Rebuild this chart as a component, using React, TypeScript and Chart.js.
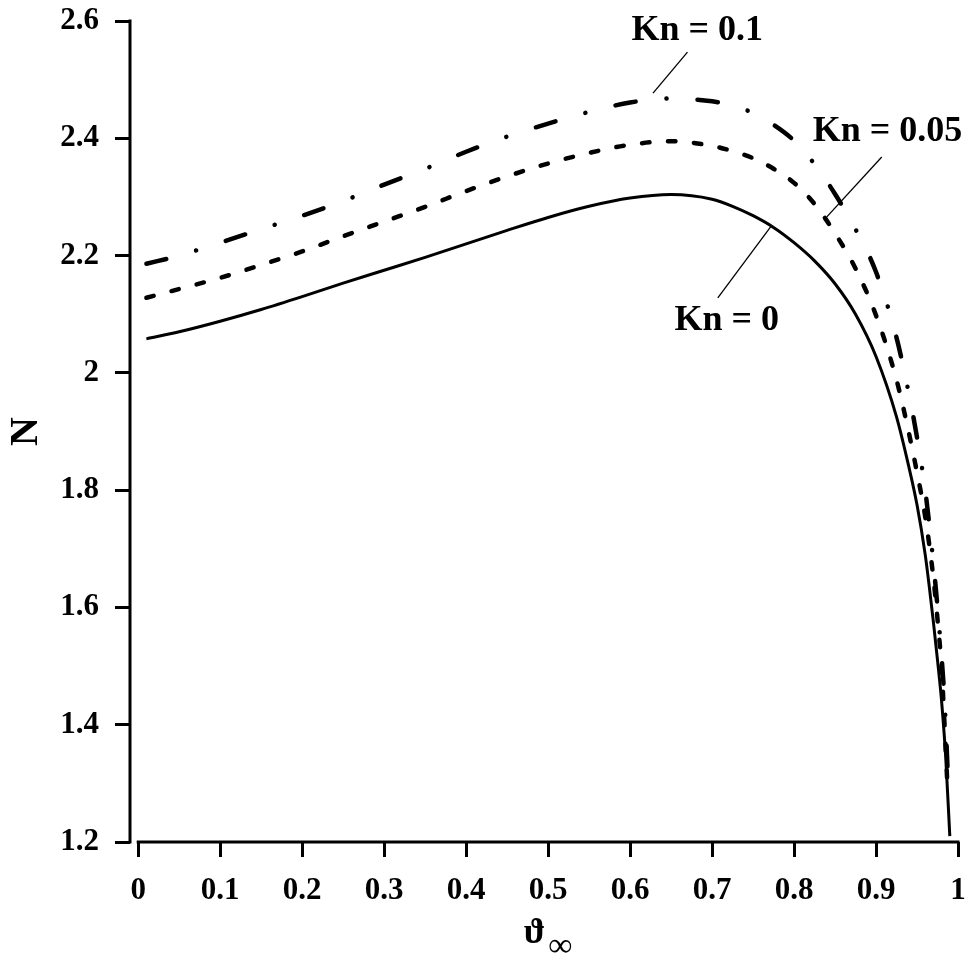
import { useEffect, useRef } from "react";
import { Chart, registerables } from "chart.js";

Chart.register(...registerables);

// Nusselt number N versus temperature ratio ϑ∞ for three Knudsen numbers
const kn0X = [0.01, 0.05, 0.1, 0.15, 0.2, 0.25, 0.3, 0.35, 0.4, 0.45, 0.5, 0.55, 0.6, 0.65, 0.7, 0.725, 0.75, 0.775, 0.8, 0.825, 0.85, 0.875, 0.9, 0.925, 0.94, 0.95, 0.96, 0.965, 0.97, 0.975, 0.98, 0.985, 0.99];
const kn0N = [2.058, 2.07, 2.088, 2.108, 2.13, 2.153, 2.175, 2.197, 2.22, 2.243, 2.265, 2.284, 2.298, 2.304, 2.296, 2.284, 2.268, 2.248, 2.222, 2.191, 2.152, 2.1, 2.028, 1.925, 1.84, 1.775, 1.69, 1.635, 1.575, 1.51, 1.44, 1.345, 1.21];

const kn005X = [0.01, 0.05, 0.1, 0.15, 0.2, 0.25, 0.3, 0.35, 0.4, 0.45, 0.5, 0.55, 0.6, 0.65, 0.7, 0.725, 0.75, 0.775, 0.8, 0.825, 0.85, 0.875, 0.9, 0.925, 0.94, 0.95, 0.96, 0.97, 0.975, 0.98, 0.987];
const kn005N = [2.128, 2.143, 2.162, 2.184, 2.207, 2.233, 2.258, 2.283, 2.31, 2.335, 2.357, 2.375, 2.389, 2.395, 2.387, 2.378, 2.366, 2.348, 2.324, 2.288, 2.238, 2.178, 2.098, 1.988, 1.898, 1.83, 1.755, 1.65, 1.58, 1.495, 1.3];

const kn01X = [0.01, 0.05, 0.1, 0.15, 0.2, 0.25, 0.3, 0.35, 0.4, 0.45, 0.5, 0.55, 0.6, 0.65, 0.7, 0.725, 0.75, 0.775, 0.8, 0.825, 0.85, 0.875, 0.9, 0.925, 0.94, 0.95, 0.96, 0.97, 0.978, 0.984, 0.988];
const kn01N = [2.186, 2.2, 2.222, 2.245, 2.268, 2.293, 2.321, 2.348, 2.377, 2.403, 2.425, 2.445, 2.461, 2.468, 2.463, 2.456, 2.443, 2.423, 2.396, 2.356, 2.305, 2.245, 2.172, 2.06, 1.965, 1.89, 1.8, 1.675, 1.55, 1.43, 1.3];

const xTickValues = [0, 0.1, 0.2, 0.3, 0.4, 0.5, 0.6, 0.7, 0.8, 0.9, 1];
const xTickLabels = ["0", "0.1", "0.2", "0.3", "0.4", "0.5", "0.6", "0.7", "0.8", "0.9", "1"];
const yTickValues = [1.2, 1.4, 1.6, 1.8, 2.0, 2.2, 2.4, 2.6];
const yTickLabels = ["1.2", "1.4", "1.6", "1.8", "2", "2.2", "2.4", "2.6"];

// Curve labels with their leader lines (data coordinates)
const curveLabels = ["Kn = 0", "Kn = 0.05", "Kn = 0.1"];
const labelX = [0.718, 0.914, 0.682];
const labelY = [2.089, 2.412, 2.583];
const leaderFromX = [0.707, 0.907, 0.67];
const leaderFromY = [2.128, 2.368, 2.547];
const leaderToX = [0.773, 0.84, 0.628];
const leaderToY = [2.252, 2.266, 2.477];

const SERIF = "'Liberation Serif', 'Times New Roman', serif";

const toPoints = (xs: number[], ys: number[]) => xs.map((x, i) => ({ x, y: ys[i] }));

const decorations = {
  id: "decorations",
  afterDraw(chart: Chart) {
    const ctx = chart.ctx;
    const xs = chart.scales.x;
    const ys = chart.scales.y;
    const area = chart.chartArea;
    ctx.save();
    ctx.strokeStyle = "#000";
    ctx.fillStyle = "#000";

    // axis lines (the horizontal one starts at the first tick)
    ctx.lineWidth = 3;
    ctx.lineCap = "butt";
    ctx.beginPath();
    ctx.moveTo(area.left, area.top - 1.5);
    ctx.lineTo(area.left, area.bottom + 1.5);
    ctx.stroke();
    ctx.beginPath();
    ctx.moveTo(xs.getPixelForValue(0) - 1.5, area.bottom);
    ctx.lineTo(area.right + 1.5, area.bottom);
    ctx.stroke();

    // y-axis title
    ctx.save();
    ctx.translate(27, (area.top + area.bottom) / 2);
    ctx.rotate(-Math.PI / 2);
    ctx.font = `bold 40px ${SERIF}`;
    ctx.textAlign = "center";
    ctx.textBaseline = "middle";
    ctx.fillText("N", 0, 0);
    ctx.restore();

    // x-axis title: ϑ with subscript ∞
    const mainFont = `bold 36px ${SERIF}`;
    const subFont = `34px ${SERIF}`;
    ctx.font = mainFont;
    const wMain = ctx.measureText("ϑ").width;
    ctx.font = subFont;
    const wSub = ctx.measureText("∞").width;
    const cx = xs.getPixelForValue(0.5);
    const startX = cx - (wMain + 3 + wSub) / 2;
    ctx.textAlign = "left";
    ctx.textBaseline = "alphabetic";
    ctx.font = mainFont;
    ctx.fillText("ϑ", startX, area.bottom + 101);
    ctx.font = subFont;
    ctx.fillText("∞", startX + wMain + 3, area.bottom + 114);

    // curve labels and leader lines
    ctx.lineWidth = 1.3;
    for (let i = 0; i < curveLabels.length; i++) {
      ctx.beginPath();
      ctx.moveTo(xs.getPixelForValue(leaderFromX[i]), ys.getPixelForValue(leaderFromY[i]));
      ctx.lineTo(xs.getPixelForValue(leaderToX[i]), ys.getPixelForValue(leaderToY[i]));
      ctx.stroke();
    }
    ctx.font = `bold 36px ${SERIF}`;
    ctx.textAlign = "center";
    ctx.textBaseline = "middle";
    for (let i = 0; i < curveLabels.length; i++) {
      ctx.fillText(curveLabels[i], xs.getPixelForValue(labelX[i]), ys.getPixelForValue(labelY[i]));
    }
    ctx.restore();
  },
};

export default function App() {
  const canvasRef = useRef<HTMLCanvasElement>(null);

  useEffect(() => {
    if (!canvasRef.current) return;
    const tickFont = { family: SERIF, size: 31, weight: "bold" as const };
    const chart = new Chart(canvasRef.current, {
      type: "line",
      data: {
        datasets: [
          {
            label: curveLabels[0],
            data: toPoints(kn0X, kn0N),
            borderColor: "#000",
            borderWidth: 3,
            pointRadius: 0,
            cubicInterpolationMode: "monotone",
          },
          {
            label: curveLabels[1],
            data: toPoints(kn005X, kn005N),
            borderColor: "#000",
            borderWidth: 4.5,
            borderDash: [7.5, 18.5],
            borderCapStyle: "round",
            pointRadius: 0,
            cubicInterpolationMode: "monotone",
          },
          {
            label: curveLabels[2],
            data: toPoints(kn01X, kn01N),
            borderColor: "#000",
            borderWidth: 4.5,
            borderDash: [20.5, 31, 0.1, 31],
            borderCapStyle: "round",
            pointRadius: 0,
            cubicInterpolationMode: "monotone",
          },
        ],
      },
      options: {
        animation: false,
        responsive: false,
        layout: { padding: { top: 21, right: 17, left: 0, bottom: 0 } },
        plugins: { legend: { display: false }, tooltip: { enabled: false } },
        scales: {
          x: {
            type: "linear",
            min: -0.01,
            max: 1,
            afterBuildTicks: (s: any) => {
              s.ticks = xTickValues.map((v) => ({ value: v }));
            },
            afterFit: (s: any) => {
              s.height = 125;
              s.paddingLeft = 0;
              s.paddingRight = 0;
            },
            ticks: {
              callback: (_v: any, i: number) => xTickLabels[i],
              font: tickFont,
              color: "#000",
              padding: 15,
              maxRotation: 0,
              autoSkip: false,
            },
            grid: { drawOnChartArea: false, drawTicks: true, tickLength: 15, tickWidth: 3, tickColor: "#000" },
            border: { display: false },
          },
          y: {
            type: "linear",
            min: 1.2,
            max: 2.6,
            afterBuildTicks: (s: any) => {
              s.ticks = yTickValues.map((v) => ({ value: v }));
            },
            afterFit: (s: any) => {
              s.width = 130;
              s.paddingTop = 0;
              s.paddingBottom = 0;
            },
            ticks: {
              callback: (_v: any, i: number) => yTickLabels[i],
              font: tickFont,
              color: "#000",
              padding: 16,
              autoSkip: false,
            },
            grid: { drawOnChartArea: false, drawTicks: true, tickLength: 15, tickWidth: 3, tickColor: "#000" },
            border: { display: false },
          },
        },
      },
      plugins: [decorations],
    });
    return () => chart.destroy();
  }, []);

  return (
    <div style={{ position: "absolute", left: 0, top: 0, width: 975, height: 967, background: "#fff" }}>
      <canvas ref={canvasRef} width={975} height={967} />
    </div>
  );
}
